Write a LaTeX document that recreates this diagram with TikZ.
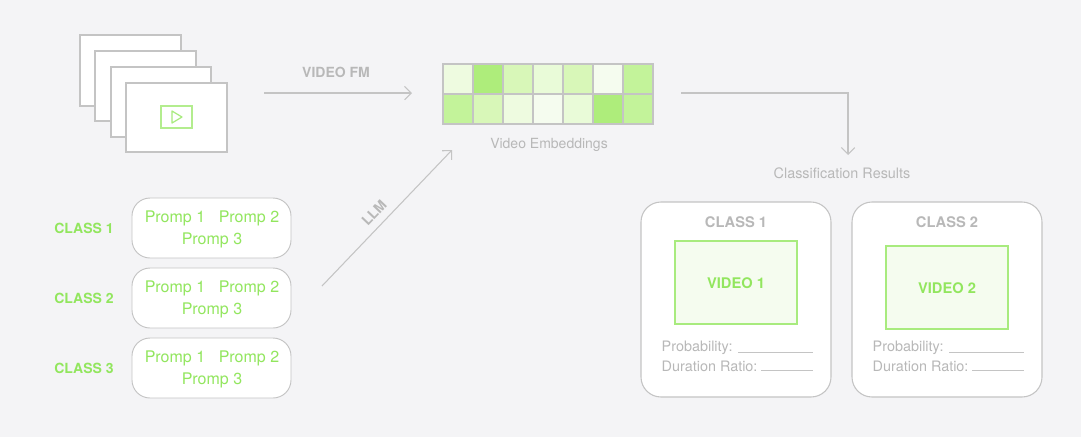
\documentclass[tikz,border=0pt]{standalone}
\usepackage{fontspec}
\setmainfont{TeX Gyre Heros}
\usetikzlibrary{arrows.meta}
\definecolor{bg}{HTML}{F4F4F6}
\definecolor{gtext}{HTML}{B8B8B8}
\definecolor{gline}{HTML}{C4C4C4}
\definecolor{grn}{HTML}{92E65E}
\definecolor{c1}{HTML}{EEFBE0}
\definecolor{c2}{HTML}{AEED7B}
\definecolor{c3}{HTML}{D8F7B8}
\definecolor{c4}{HTML}{E9FBD8}
\definecolor{c5}{HTML}{F5FCEF}
\definecolor{c6}{HTML}{C3F39A}
\tikzset{
  frame/.style={draw=gline,fill=white,line width=0.9pt},
  pbox/.style={draw=gline,fill=white,rounded corners=13.5pt,line width=0.7pt},
  rbox/.style={draw=gline,fill=white,rounded corners=15pt,line width=0.8pt},
  vbox/.style={draw=grn!80,fill=c5,line width=0.9pt},
  cell/.style={draw=gline,line width=0.8pt},
  glab/.style={text=gtext,font=\bfseries\fontsize{10.5}{12}\selectfont},
  small/.style={text=gtext,font=\fontsize{10.8}{12}\selectfont},
  clab/.style={text=grn,font=\bfseries\fontsize{10.5}{12}\selectfont},
  prm/.style={text=grn,font=\fontsize{12}{14}\selectfont},
  arr/.style={draw=gline,line width=0.8pt,-{Straight Barb[length=5pt,width=10pt]}},
}
\begin{document}
\begin{tikzpicture}[x=0.75pt,y=-0.75pt]
\useasboundingbox[fill=bg] (0,0) rectangle (1081,437);
% frames
\draw[frame] (80,35) rectangle (181,106);
\draw[frame] (95,51) rectangle (196,121);
\draw[frame] (111,67) rectangle (211,137);
\draw[frame] (126,83) rectangle (227,152);
\draw[draw=grn!70,line width=0.9pt] (161,106) rectangle (192,128);
\draw[draw=grn!80,line width=0.9pt,line join=round] (172,111) -- (182,117) -- (172,123) -- cycle;
% video fm
\coordinate (fmS) at (264,93);
\coordinate (fmE) at (412,93);
\draw[arr] (fmS) -- (fmE);
\node[glab] (fm) at (336,72) {VIDEO FM};
% grid
\foreach \c [count=\i from 0] in {c1,c2,c3,c4,c3,c5,c6}
  \draw[cell,fill=\c] (443+30*\i,64) rectangle ++(30,30);
\foreach \c [count=\i from 0] in {c6,c3,c1,c5,c4,c2,c6}
  \draw[cell,fill=\c] (443+30*\i,94) rectangle ++(30,30);
\node[small,font=\fontsize{10.5}{12}\selectfont] (emb) at (549,145) {Video Embeddings};
% LLM
\coordinate (llS) at (322,286);
\coordinate (llE) at (452,150);
\draw[arr] (llS) -- (llE);
\node[glab,rotate=46.3] (llm) at (374,213) {LLM};
% elbow
\coordinate (eS) at (681,93);
\coordinate (eC) at (848,93);
\coordinate (eE) at (848,155);
\draw[arr] (eS) -- (eC) -- (eE);
\node[small] (cr) at (842,173) {Classification Results};
% prompt boxes
\foreach \y/\n in {198/1,268/2,338/3}{
  \draw[pbox] (132,\y) rectangle (291,\y+60);
  \node[prm] at (175,\y+20) {Promp 1};
  \node[prm] at (249,\y+20) {Promp 2};
  \node[prm] at (212,\y+42) {Promp 3};
  \node[clab] at (84,\y+30) {CLASS \n};
}
% result boxes
\foreach \x/\n/\vy in {641/1/241,852/2/246}{
  \draw[rbox] (\x,202) rectangle (\x+190,397);
  \node[glab,font=\bfseries\fontsize{11}{13}\selectfont] at (\x+95,222) {CLASS \n};
  \draw[vbox] (\x+34,\vy) rectangle (\x+156,\vy+83);
  \node[clab,font=\bfseries\fontsize{11}{13}\selectfont] at (\x+95,\vy+42) {VIDEO \n};
  \node[small,anchor=west] at (\x+16,348) {Probability:};
  \node[small,anchor=west] at (\x+16,366) {Duration Ratio:};
  \draw[gline,line width=0.7pt] (\x+97,352) -- (\x+172,352);
  \draw[gline,line width=0.7pt] (\x+120,370) -- (\x+172,370);
}
\end{tikzpicture}
\end{document}
